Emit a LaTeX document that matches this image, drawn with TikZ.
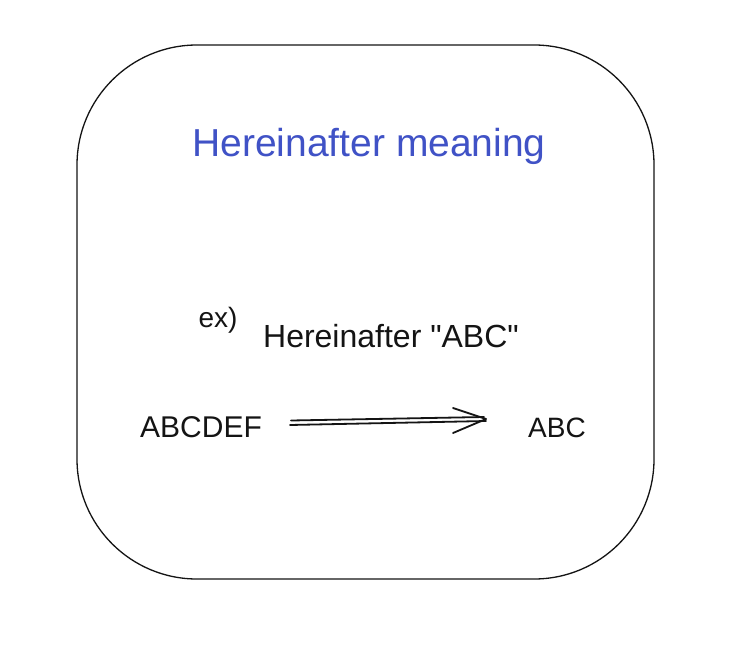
\documentclass[tikz,border=0pt]{standalone}
\usepackage{fontspec}
\setmainfont{Liberation Sans}[Ligatures=TeXOff]
\definecolor{titleblue}{RGB}{64,82,198}
\definecolor{ink}{RGB}{20,20,20}
\begin{document}
\begin{tikzpicture}[x=1pt,y=-1pt,
  txt/.style={inner sep=0pt,anchor=base,text=ink},
  frame/.style={draw=ink,line width=1.3pt,rounded corners=120pt},
  arr/.style={draw=ink,line width=1.8pt,line cap=round}]
\useasboundingbox (0,0) rectangle (743,655);
\fill[white] (0,0) rectangle (743,655);
\draw[frame] (77,45) rectangle (654,579);
\node[txt,text=titleblue,font=\fontsize{39}{44}\selectfont] (title) at (369,157) {Hereinafter meaning};
\node[txt,font=\fontsize{28}{32}\selectfont] (ex) at (218,327) {ex)};
\node[txt,font=\fontsize{32}{36}\selectfont] (herein) at (391,347) {Hereinafter "ABC"};
\node[txt,font=\fontsize{30}{34}\selectfont] (src) at (201,437) {ABCDEF};
\node[txt,font=\fontsize{28}{32}\selectfont] (dst) at (557,437) {ABC};
\coordinate (s1) at (291,420.5);
\coordinate (e1) at (484,417);
\coordinate (s2) at (290,425);
\coordinate (e2) at (486,421);
\coordinate (tip) at (486,419);
\draw[arr] (s1) -- (e1);
\draw[arr] (s2) -- (e2);
\draw[arr] (tip) -- ++(-33,-11);
\draw[arr] (tip) -- ++(-33,14);
\end{tikzpicture}
\end{document}
